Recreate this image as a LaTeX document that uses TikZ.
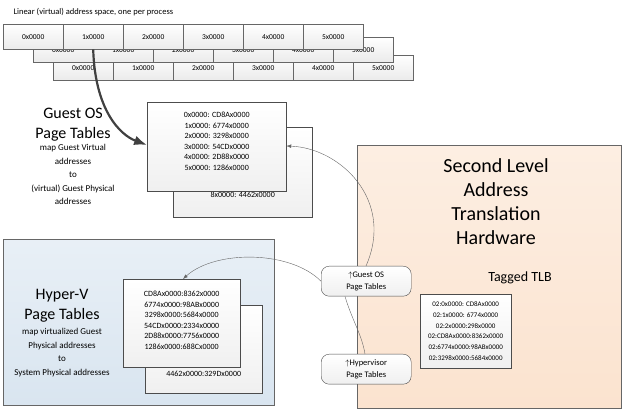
\documentclass[tikz,border=0pt]{standalone}
\usepackage{fontspec}
\setmainfont{Carlito}
\usetikzlibrary{positioning, arrows.meta}
\definecolor{orangebg}{HTML}{FBE3CF}
\definecolor{bluebg}{HTML}{D9E5F0}
\tikzset{%
	>={Latex},
	cell/.style = {draw = black!60, top color = white, bottom color = black!8, minimum width = 60pt, minimum height = 25pt, inner sep = 0pt, font = \fontsize{7.5}{8}\selectfont},
	tbl/.style = {draw = black!70, top color = white, bottom color = black!6, inner sep = 0pt, anchor = north west},
	rnd/.style = {draw = black!70, rounded corners = 8pt, top color = white, bottom color = black!6, minimum width = 90pt, minimum height = 30pt, align = center, font = \fontsize{8.5}{12}\selectfont},
	big/.style = {font = \fontsize{16}{20}\selectfont, align = center},
	sml/.style = {font = \fontsize{9}{13.5}\selectfont, align = center},
	entries/.style = {font = \fontsize{8}{10.5}\selectfont, align = center}
}
\begin{document}
\begin{tikzpicture}[x=1pt, y=-1pt]
			\useasboundingbox (0,0) rectangle (624,411);
			\node [anchor = west, font = \fontsize{8.5}{9}\selectfont] (title) at (10,12) {Linear (virtual) address space, one per process};
			% three stacked address spaces
			\foreach \ox/\oy/\r in {53/55/c, 33/37/b, 3/24/a} {
				\foreach \i in {0,...,5} {
					\node [cell, anchor = north west] (\r\i) at ({\ox+60*\i},\oy) {\i x0000};
				}
			}
			% background panels
			\node [tbl, draw = black!60, top color = orangebg!60, bottom color = orangebg, minimum width = 264pt, minimum height = 263pt] (slat) at (357,145) {};
			\node [tbl, draw = black!60, top color = bluebg!60, bottom color = bluebg, minimum width = 271pt, minimum height = 166pt] (hyv) at (3,239) {};
			% guest os page tables
			\node [tbl, minimum width = 139pt, minimum height = 90pt] (gback) at (173,127) {};
			\node [entries, anchor = south] (gmore) at (gback.south) [yshift = 16pt] {8x0000: 4462x0000};
			\node [tbl, minimum width = 139pt, minimum height = 89pt] (gfront) at (147,102) {};
			\node [entries, anchor = north] (gent) at ([yshift = -7pt]gfront.north) {0x0000: CD8Ax0000\\1x0000: 6774x0000\\2x0000: 3298x0000\\3x0000: 54CDx0000\\4x0000: 2D88x0000\\5x0000: 1286x0000};
			\node [big, align = center] (glab) at (73,125) {Guest OS\\Page Tables};
			\node [sml, anchor = north] (gtxt) at (73,141) {map Guest Virtual\\addresses\\to\\(virtual) Guest Physical\\addresses};
			% hyper-v page tables
			\node [tbl, minimum width = 117pt, minimum height = 88pt] (hback) at (145,305) {};
			\node [entries, anchor = south] (hmore) at (hback.south) [yshift = 13pt] {4462x0000:329Dx0000};
			\node [tbl, minimum width = 117pt, minimum height = 88pt] (hfront) at (123,279) {};
			\node [entries, anchor = north] (hent) at ([yshift = -9pt]hfront.north) {CD8Ax0000:8362x0000\\6774x0000:98ABx0000\\3298x0000:5684x0000\\54CDx0000:2334x0000\\2D88x0000:7756x0000\\1286x0000:688Cx0000};
			\node [big] (hlab) at (62,306) {Hyper-V\\Page Tables};
			\node [sml, anchor = north] (htxt) at (62,325) {map virtualized Guest\\Physical addresses\\to\\System Physical addresses};
			% second level address translation
			\node [font = \fontsize{20}{24}\selectfont, align = center] (slab) at (496,202) {Second Level\\Address\\Translation\\Hardware};
			\node [rnd, anchor = north west] (gpt) at (321,266) {$\uparrow$Guest OS\\Page Tables};
			\node [rnd, anchor = north west] (hpt) at (321,354) {$\uparrow$Hypervisor\\Page Tables};
			\node [font = \fontsize{14}{16}\selectfont] (tlab) at (520,278) {Tagged TLB};
			\node [tbl, minimum width = 91pt, minimum height = 74pt] (tlb) at (420,294) {};
			\node [entries, font = \fontsize{7}{10.8}\selectfont] (tent) at (tlb.center) {02:0x0000: CD8Ax0000\\02:1x0000: 6774x0000\\02:2x0000:298x0000\\02:CD8Ax0000:8362x0000\\02:6774x0000:98ABx0000\\02:3298x0000:5684x0000};
			% connectors
			\draw [->, line width = 2.2pt, black!75] (a1.south) .. controls (95,110) and (120,135) .. (gfront.west |- 0,145);
			\draw [->, black!60] ([xshift = 45pt]gpt.north west) .. controls (395,200) and (340,148) .. (gfront.east |- 0,146);
			\draw [->, black!60] (gpt.west) .. controls (290,250) and (215,250) .. (hfront.north -| 183,0);
			\draw [black!60] ([xshift = 24pt]gpt.south west) .. controls (352,320) and (362,335) .. ([xshift = 44pt]hpt.north west);
\end{tikzpicture}
\end{document}
